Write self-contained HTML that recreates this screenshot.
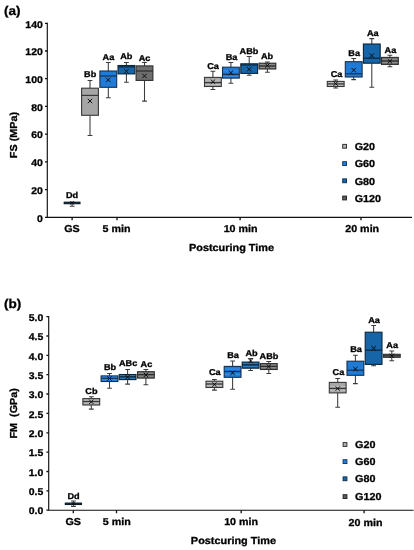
<!DOCTYPE html>
<html lang="en"><head><meta charset="utf-8"><title>Box plots</title>
<style>html,body{margin:0;padding:0;background:#fff}svg{display:block}text{font-family:'Liberation Sans', Arial, Helvetica, sans-serif;font-weight:700;text-rendering:geometricPrecision;fill:#000;stroke:#000;stroke-width:0.3px}</style></head><body>
<svg width="414" height="550" viewBox="0 0 414 550">
<rect width="414" height="550" fill="#fff"/>
<!-- chart a -->
<text transform="translate(4.0 15.3) scale(1.07 1)" font-size="12.62" text-anchor="start" >(a)</text>
<path d="M47.3 22.8V217.3H412" stroke="#111" stroke-width="1.15" fill="none"/>
<text transform="translate(42.8 221.5) scale(1.07 1)" font-size="9.77" text-anchor="end" >0</text>
<text transform="translate(42.8 193.8) scale(1.07 1)" font-size="9.77" text-anchor="end" >20</text>
<text transform="translate(42.8 166.1) scale(1.07 1)" font-size="9.77" text-anchor="end" >40</text>
<text transform="translate(42.8 138.4) scale(1.07 1)" font-size="9.77" text-anchor="end" >60</text>
<text transform="translate(42.8 110.6) scale(1.07 1)" font-size="9.77" text-anchor="end" >80</text>
<text transform="translate(42.8 82.9) scale(1.07 1)" font-size="9.77" text-anchor="end" >100</text>
<text transform="translate(42.8 55.2) scale(1.07 1)" font-size="9.77" text-anchor="end" >120</text>
<text transform="translate(42.8 27.5) scale(1.07 1)" font-size="9.77" text-anchor="end" >140</text>
<path d="M45.0 217.3H47.3M45.0 189.6H47.3M45.0 161.9H47.3M45.0 134.2H47.3M45.0 106.4H47.3M45.0 78.7H47.3M45.0 51.0H47.3M45.0 23.3H47.3M72.1 217.3V220.3M117.0 217.3V220.3M240.1 217.3V220.3M361.0 217.3V220.3" stroke="#111" stroke-width="1.3" fill="none"/>
<text transform="translate(72.0 232.3) scale(1.07 1)" font-size="10.00" text-anchor="middle" >GS</text>
<text transform="translate(116.6 232.3) scale(1.07 1)" font-size="10.00" text-anchor="middle" >5 min</text>
<text transform="translate(240.6 232.3) scale(1.07 1)" font-size="10.00" text-anchor="middle" >10 min</text>
<text transform="translate(362.2 232.3) scale(1.07 1)" font-size="10.00" text-anchor="middle" >20 min</text>
<text transform="translate(231.5 250.8) scale(1.07 1)" font-size="10.19" text-anchor="middle" >Postcuring Time</text>
<text transform="translate(17.1 135) rotate(-90) scale(1.07 1)" font-size="10.14" text-anchor="middle">FS (MPa)</text>
<path d="M72.1 202.2V202.2M72.1 203.7V206.3M69.7 202.2H74.5M69.7 206.3H74.5" stroke="#3c3c3c" stroke-width="1.05" fill="none"/>
<rect x="64.2" y="202.2" width="15.8" height="1.5" fill="#0c2a3d" stroke="#0a1c28" stroke-width="1.1"/>
<path d="M70.5 201.3L73.7 204.5M70.5 204.5L73.7 201.3" stroke="#0a0a0a" stroke-width="0.95" fill="none"/>
<text transform="translate(72.1 198.3) scale(1.07 1)" font-size="8.55" text-anchor="middle" >Dd</text>
<path d="M90.0 80.4V88.2M90.0 115.3V135.4M87.6 80.4H92.4M87.6 135.4H92.4" stroke="#3c3c3c" stroke-width="1.05" fill="none"/>
<rect x="81.6" y="88.2" width="16.8" height="27.1" fill="#a6a6a6" stroke="#383838" stroke-width="1.1"/>
<path d="M81.6 95.4H98.4" stroke="#383838" stroke-width="1.2"/>
<path d="M87.8 98.8L92.2 103.2M87.8 103.2L92.2 98.8" stroke="#0a0a0a" stroke-width="0.95" fill="none"/>
<text transform="translate(90.2 76.8) scale(1.07 1)" font-size="8.55" text-anchor="middle" >Bb</text>
<path d="M108.3 62.4V71.0M108.3 87.3V97.8M105.9 62.4H110.7M105.9 97.8H110.7" stroke="#3c3c3c" stroke-width="1.05" fill="none"/>
<rect x="99.9" y="71.0" width="16.8" height="16.3" fill="#1f7bd6" stroke="#15304d" stroke-width="1.1"/>
<path d="M99.9 76.0H116.7" stroke="#15304d" stroke-width="1.2"/>
<path d="M106.1 77.7L110.5 82.1M106.1 82.1L110.5 77.7" stroke="#0a0a0a" stroke-width="0.95" fill="none"/>
<text transform="translate(108.4 59.5) scale(1.07 1)" font-size="8.55" text-anchor="middle" >Aa</text>
<path d="M126.4 62.5V65.5M126.4 73.9V82.2M124.0 62.5H128.8M124.0 82.2H128.8" stroke="#3c3c3c" stroke-width="1.05" fill="none"/>
<rect x="118.0" y="65.5" width="16.8" height="8.4" fill="#1565a8" stroke="#0c2538" stroke-width="1.1"/>
<path d="M118.0 66.9H134.8" stroke="#0c2538" stroke-width="1.2"/>
<path d="M124.2 69.1L128.6 73.5M124.2 73.5L128.6 69.1" stroke="#0a0a0a" stroke-width="0.95" fill="none"/>
<text transform="translate(126.3 59.2) scale(1.07 1)" font-size="8.55" text-anchor="middle" >Ab</text>
<path d="M144.5 62.5V65.9M144.5 80.4V101.1M142.1 62.5H146.9M142.1 101.1H146.9" stroke="#3c3c3c" stroke-width="1.05" fill="none"/>
<rect x="136.1" y="65.9" width="16.8" height="14.5" fill="#6e6e6e" stroke="#2e2e2e" stroke-width="1.1"/>
<path d="M136.1 71.0H152.9" stroke="#2e2e2e" stroke-width="1.2"/>
<path d="M142.3 73.7L146.7 78.1M142.3 78.1L146.7 73.7" stroke="#0a0a0a" stroke-width="0.95" fill="none"/>
<text transform="translate(144.5 60.7) scale(1.07 1)" font-size="8.55" text-anchor="middle" >Ac</text>
<path d="M212.9 71.3V77.4M212.9 86.5V89.5M210.5 71.3H215.3M210.5 89.5H215.3" stroke="#3c3c3c" stroke-width="1.05" fill="none"/>
<rect x="204.5" y="77.4" width="16.8" height="9.1" fill="#a6a6a6" stroke="#383838" stroke-width="1.1"/>
<path d="M205.3 80.1H220.5" stroke="#c8c8c8" stroke-width="0.8"/>
<path d="M205.3 84.5H220.5" stroke="#c8c8c8" stroke-width="0.8"/>
<path d="M204.5 82.6H221.3" stroke="#383838" stroke-width="1.2"/>
<path d="M210.7 79.5L215.1 83.9M210.7 83.9L215.1 79.5" stroke="#0a0a0a" stroke-width="0.95" fill="none"/>
<text transform="translate(213.0 69.1) scale(1.07 1)" font-size="8.55" text-anchor="middle" >Ca</text>
<path d="M230.9 62.5V67.2M230.9 78.1V83.2M228.5 62.5H233.3M228.5 83.2H233.3" stroke="#3c3c3c" stroke-width="1.05" fill="none"/>
<rect x="222.5" y="67.2" width="16.8" height="10.9" fill="#1f7bd6" stroke="#15304d" stroke-width="1.1"/>
<path d="M223.3 70.9H238.5" stroke="#4496e8" stroke-width="0.8"/>
<path d="M223.3 76.2H238.5" stroke="#4496e8" stroke-width="0.8"/>
<path d="M222.5 74.4H239.3" stroke="#15304d" stroke-width="1.2"/>
<path d="M228.7 70.5L233.1 74.9M228.7 74.9L233.1 70.5" stroke="#0a0a0a" stroke-width="0.95" fill="none"/>
<text transform="translate(231.6 59.6) scale(1.07 1)" font-size="8.55" text-anchor="middle" >Ba</text>
<path d="M249.2 56.5V63.8M249.2 73.4V75.3M246.8 56.5H251.6M246.8 75.3H251.6" stroke="#3c3c3c" stroke-width="1.05" fill="none"/>
<rect x="240.8" y="63.8" width="16.8" height="9.6" fill="#1565a8" stroke="#0c2538" stroke-width="1.1"/>
<path d="M240.8 65.0H257.6" stroke="#0c2538" stroke-width="1.2"/>
<path d="M247.0 67.1L251.4 71.5M247.0 71.5L251.4 67.1" stroke="#0a0a0a" stroke-width="0.95" fill="none"/>
<text transform="translate(249.0 54.0) scale(1.07 1)" font-size="8.55" text-anchor="middle" >ABb</text>
<path d="M267.4 62.0V63.2M267.4 69.0V72.2M265.0 62.0H269.8M265.0 72.2H269.8" stroke="#3c3c3c" stroke-width="1.05" fill="none"/>
<rect x="259.0" y="63.2" width="16.8" height="5.8" fill="#6e6e6e" stroke="#2e2e2e" stroke-width="1.1"/>
<path d="M259.8 64.7H275.0" stroke="#9c9c9c" stroke-width="0.8"/>
<path d="M259.8 67.4H275.0" stroke="#9c9c9c" stroke-width="0.8"/>
<path d="M259.0 66.0H275.8" stroke="#2e2e2e" stroke-width="1.2"/>
<path d="M265.2 63.4L269.6 67.8M265.2 67.8L269.6 63.4" stroke="#0a0a0a" stroke-width="0.95" fill="none"/>
<text transform="translate(267.0 58.8) scale(1.07 1)" font-size="8.55" text-anchor="middle" >Ab</text>
<path d="M335.7 80.0V81.4M335.7 86.5V88.0M333.3 80.0H338.1M333.3 88.0H338.1" stroke="#3c3c3c" stroke-width="1.05" fill="none"/>
<rect x="327.3" y="81.4" width="16.8" height="5.1" fill="#a6a6a6" stroke="#383838" stroke-width="1.1"/>
<path d="M328.1 82.8H343.3" stroke="#c8c8c8" stroke-width="0.8"/>
<path d="M328.1 85.1H343.3" stroke="#c8c8c8" stroke-width="0.8"/>
<path d="M327.3 83.9H344.1" stroke="#383838" stroke-width="1.2"/>
<path d="M333.5 81.4L337.9 85.8M333.5 85.8L337.9 81.4" stroke="#0a0a0a" stroke-width="0.95" fill="none"/>
<text transform="translate(336.5 77.0) scale(1.07 1)" font-size="8.55" text-anchor="middle" >Ca</text>
<path d="M353.7 58.5V61.7M353.7 77.0V79.6M351.3 58.5H356.1M351.3 79.6H356.1" stroke="#3c3c3c" stroke-width="1.05" fill="none"/>
<rect x="345.3" y="61.7" width="16.8" height="15.3" fill="#1f7bd6" stroke="#15304d" stroke-width="1.1"/>
<path d="M345.3 73.8H362.1" stroke="#15304d" stroke-width="1.2"/>
<path d="M351.5 68.0L355.9 72.4M351.5 72.4L355.9 68.0" stroke="#0a0a0a" stroke-width="0.95" fill="none"/>
<text transform="translate(354.2 56.1) scale(1.07 1)" font-size="8.55" text-anchor="middle" >Ba</text>
<path d="M371.8 38.6V44.0M371.8 63.2V87.3M369.4 38.6H374.2M369.4 87.3H374.2" stroke="#3c3c3c" stroke-width="1.05" fill="none"/>
<rect x="363.4" y="44.0" width="16.8" height="19.2" fill="#1565a8" stroke="#0c2538" stroke-width="1.1"/>
<path d="M363.4 58.2H380.2" stroke="#0c2538" stroke-width="1.2"/>
<path d="M369.6 53.4L374.0 57.8M369.6 57.8L374.0 53.4" stroke="#0a0a0a" stroke-width="0.95" fill="none"/>
<text transform="translate(372.8 36.3) scale(1.07 1)" font-size="8.55" text-anchor="middle" >Aa</text>
<path d="M389.9 55.3V57.4M389.9 64.4V66.8M387.5 55.3H392.3M387.5 66.8H392.3" stroke="#3c3c3c" stroke-width="1.05" fill="none"/>
<rect x="381.5" y="57.4" width="16.8" height="7.0" fill="#6e6e6e" stroke="#2e2e2e" stroke-width="1.1"/>
<path d="M382.3 59.3H397.5" stroke="#9c9c9c" stroke-width="0.8"/>
<path d="M382.3 62.6H397.5" stroke="#9c9c9c" stroke-width="0.8"/>
<path d="M381.5 61.0H398.3" stroke="#2e2e2e" stroke-width="1.2"/>
<path d="M387.7 59.0L392.1 63.4M387.7 63.4L392.1 59.0" stroke="#0a0a0a" stroke-width="0.95" fill="none"/>
<text transform="translate(390.4 52.7) scale(1.07 1)" font-size="8.55" text-anchor="middle" >Aa</text>
<rect x="342.7" y="144.4" width="3.8" height="3.8" fill="#b6b6b6" stroke="#333" stroke-width="1"/>
<text transform="translate(354.7 150.0) scale(1.07 1)" font-size="10.09" text-anchor="start" >G20</text>
<rect x="342.7" y="161.7" width="3.8" height="3.8" fill="#1f80e6" stroke="#183a63" stroke-width="1"/>
<text transform="translate(354.7 167.2) scale(1.07 1)" font-size="10.09" text-anchor="start" >G60</text>
<rect x="342.7" y="178.9" width="3.8" height="3.8" fill="#1568ad" stroke="#11324f" stroke-width="1"/>
<text transform="translate(354.7 184.5) scale(1.07 1)" font-size="10.09" text-anchor="start" >G80</text>
<rect x="342.7" y="196.1" width="3.8" height="3.8" fill="#5c5c5c" stroke="#262626" stroke-width="1"/>
<text transform="translate(354.7 201.7) scale(1.07 1)" font-size="10.09" text-anchor="start" >G120</text>
<!-- chart b -->
<text transform="translate(3.9 308.3) scale(1.07 1)" font-size="12.62" text-anchor="start" >(b)</text>
<path d="M48.7 316.1V510.2H413.5" stroke="#111" stroke-width="1.15" fill="none"/>
<text transform="translate(43.2 514.4) scale(1.07 1)" font-size="9.77" text-anchor="end" >0.0</text>
<text transform="translate(43.2 495.0) scale(1.07 1)" font-size="9.77" text-anchor="end" >0.5</text>
<text transform="translate(43.2 475.7) scale(1.07 1)" font-size="9.77" text-anchor="end" >1.0</text>
<text transform="translate(43.2 456.3) scale(1.07 1)" font-size="9.77" text-anchor="end" >1.5</text>
<text transform="translate(43.2 437.0) scale(1.07 1)" font-size="9.77" text-anchor="end" >2.0</text>
<text transform="translate(43.2 417.6) scale(1.07 1)" font-size="9.77" text-anchor="end" >2.5</text>
<text transform="translate(43.2 398.2) scale(1.07 1)" font-size="9.77" text-anchor="end" >3.0</text>
<text transform="translate(43.2 378.9) scale(1.07 1)" font-size="9.77" text-anchor="end" >3.5</text>
<text transform="translate(43.2 359.5) scale(1.07 1)" font-size="9.77" text-anchor="end" >4.0</text>
<text transform="translate(43.2 340.2) scale(1.07 1)" font-size="9.77" text-anchor="end" >4.5</text>
<text transform="translate(43.2 320.8) scale(1.07 1)" font-size="9.77" text-anchor="end" >5.0</text>
<path d="M46.4 510.2H48.7M46.4 490.8H48.7M46.4 471.5H48.7M46.4 452.1H48.7M46.4 432.8H48.7M46.4 413.4H48.7M46.4 394.0H48.7M46.4 374.7H48.7M46.4 355.3H48.7M46.4 336.0H48.7M46.4 316.6H48.7M73.3 510.2V513.2M116.5 510.2V513.2M241.2 510.2V513.2M364.1 510.2V513.2" stroke="#111" stroke-width="1.3" fill="none"/>
<text transform="translate(73.1 525.0) scale(1.07 1)" font-size="10.00" text-anchor="middle" >GS</text>
<text transform="translate(116.8 525.1) scale(1.07 1)" font-size="10.00" text-anchor="middle" >5 min</text>
<text transform="translate(241.1 525.2) scale(1.07 1)" font-size="10.00" text-anchor="middle" >10 min</text>
<text transform="translate(365.5 525.5) scale(1.07 1)" font-size="10.00" text-anchor="middle" >20 min</text>
<text transform="translate(233.4 543.9) scale(1.07 1)" font-size="10.19" text-anchor="middle" >Postcuring Time</text>
<text transform="translate(17.1 413.3) rotate(-90) scale(1.07 1)" font-size="10.14" text-anchor="middle" xml:space="preserve">FM  (GPa)</text>
<path d="M73.4 501.0V503.1M73.4 504.5V506.4M71.0 501.0H75.8M71.0 506.4H75.8" stroke="#3c3c3c" stroke-width="1.05" fill="none"/>
<rect x="65.3" y="503.1" width="16.2" height="1.4" fill="#0c2a3d" stroke="#0a1c28" stroke-width="1.1"/>
<path d="M71.8 502.2L75.0 505.4M71.8 505.4L75.0 502.2" stroke="#0a0a0a" stroke-width="0.95" fill="none"/>
<text transform="translate(73.6 499.0) scale(1.07 1)" font-size="8.55" text-anchor="middle" >Dd</text>
<path d="M91.3 396.7V398.6M91.3 405.0V409.1M88.9 396.7H93.7M88.9 409.1H93.7" stroke="#3c3c3c" stroke-width="1.05" fill="none"/>
<rect x="82.9" y="398.6" width="16.8" height="6.4" fill="#a6a6a6" stroke="#383838" stroke-width="1.1"/>
<path d="M83.7 400.2H98.9" stroke="#c8c8c8" stroke-width="0.8"/>
<path d="M83.7 403.1H98.9" stroke="#c8c8c8" stroke-width="0.8"/>
<path d="M82.9 401.5H99.7" stroke="#383838" stroke-width="1.2"/>
<path d="M89.1 399.6L93.5 404.0M89.1 404.0L93.5 399.6" stroke="#0a0a0a" stroke-width="0.95" fill="none"/>
<text transform="translate(91.4 393.8) scale(1.07 1)" font-size="8.55" text-anchor="middle" >Cb</text>
<path d="M109.5 373.5V375.9M109.5 381.5V388.3M107.1 373.5H111.9M107.1 388.3H111.9" stroke="#3c3c3c" stroke-width="1.05" fill="none"/>
<rect x="101.1" y="375.9" width="16.8" height="5.6" fill="#1f7bd6" stroke="#15304d" stroke-width="1.1"/>
<path d="M101.9 377.2H117.1" stroke="#4496e8" stroke-width="0.8"/>
<path d="M101.9 379.8H117.1" stroke="#4496e8" stroke-width="0.8"/>
<path d="M101.1 378.3H117.9" stroke="#15304d" stroke-width="1.2"/>
<path d="M107.3 376.3L111.7 380.7M107.3 380.7L111.7 376.3" stroke="#0a0a0a" stroke-width="0.95" fill="none"/>
<text transform="translate(110.1 369.8) scale(1.07 1)" font-size="8.55" text-anchor="middle" >Bb</text>
<path d="M127.6 369.5V374.5M127.6 379.6V384.1M125.2 369.5H130.0M125.2 384.1H130.0" stroke="#3c3c3c" stroke-width="1.05" fill="none"/>
<rect x="119.2" y="374.5" width="16.8" height="5.1" fill="#1565a8" stroke="#0c2538" stroke-width="1.1"/>
<path d="M120.0 375.8H135.2" stroke="#3787c9" stroke-width="0.8"/>
<path d="M120.0 378.1H135.2" stroke="#3787c9" stroke-width="0.8"/>
<path d="M119.2 376.8H136.0" stroke="#0c2538" stroke-width="1.2"/>
<path d="M125.4 374.9L129.8 379.3M125.4 379.3L129.8 374.9" stroke="#0a0a0a" stroke-width="0.95" fill="none"/>
<text transform="translate(128.1 366.2) scale(1.07 1)" font-size="8.55" text-anchor="middle" >ABc</text>
<path d="M145.9 369.5V371.7M145.9 378.1V384.8M143.5 369.5H148.3M143.5 384.8H148.3" stroke="#3c3c3c" stroke-width="1.05" fill="none"/>
<rect x="137.5" y="371.7" width="16.8" height="6.4" fill="#6e6e6e" stroke="#2e2e2e" stroke-width="1.1"/>
<path d="M138.3 373.2H153.5" stroke="#9c9c9c" stroke-width="0.8"/>
<path d="M138.3 376.2H153.5" stroke="#9c9c9c" stroke-width="0.8"/>
<path d="M137.5 374.6H154.3" stroke="#2e2e2e" stroke-width="1.2"/>
<path d="M143.7 372.7L148.1 377.1M143.7 377.1L148.1 372.7" stroke="#0a0a0a" stroke-width="0.95" fill="none"/>
<text transform="translate(146.4 366.5) scale(1.07 1)" font-size="8.55" text-anchor="middle" >Ac</text>
<path d="M214.4 379.5V381.2M214.4 387.5V390.1M212.0 379.5H216.8M212.0 390.1H216.8" stroke="#3c3c3c" stroke-width="1.05" fill="none"/>
<rect x="206.0" y="381.2" width="16.8" height="6.3" fill="#a6a6a6" stroke="#383838" stroke-width="1.1"/>
<path d="M206.8 382.7H222.0" stroke="#c8c8c8" stroke-width="0.8"/>
<path d="M206.8 385.6H222.0" stroke="#c8c8c8" stroke-width="0.8"/>
<path d="M206.0 384.0H222.8" stroke="#383838" stroke-width="1.2"/>
<path d="M212.2 382.3L216.6 386.7M212.2 386.7L216.6 382.3" stroke="#0a0a0a" stroke-width="0.95" fill="none"/>
<text transform="translate(214.8 375.4) scale(1.07 1)" font-size="8.55" text-anchor="middle" >Ca</text>
<path d="M232.6 361.0V366.4M232.6 377.3V389.2M230.2 361.0H235.0M230.2 389.2H235.0" stroke="#3c3c3c" stroke-width="1.05" fill="none"/>
<rect x="224.2" y="366.4" width="16.8" height="10.9" fill="#1f7bd6" stroke="#15304d" stroke-width="1.1"/>
<path d="M225.0 369.1H240.2" stroke="#4496e8" stroke-width="0.8"/>
<path d="M225.0 374.3H240.2" stroke="#4496e8" stroke-width="0.8"/>
<path d="M224.2 371.5H241.0" stroke="#15304d" stroke-width="1.2"/>
<path d="M230.4 370.7L234.8 375.1M230.4 375.1L234.8 370.7" stroke="#0a0a0a" stroke-width="0.95" fill="none"/>
<text transform="translate(233.0 358.1) scale(1.07 1)" font-size="8.55" text-anchor="middle" >Ba</text>
<path d="M250.6 358.5V362.1M250.6 368.2V370.4M248.2 358.5H253.0M248.2 370.4H253.0" stroke="#3c3c3c" stroke-width="1.05" fill="none"/>
<rect x="242.2" y="362.1" width="16.8" height="6.1" fill="#1565a8" stroke="#0c2538" stroke-width="1.1"/>
<path d="M243.0 363.6H258.2" stroke="#3787c9" stroke-width="0.8"/>
<path d="M243.0 366.4H258.2" stroke="#3787c9" stroke-width="0.8"/>
<path d="M242.2 364.8H259.0" stroke="#0c2538" stroke-width="1.2"/>
<path d="M248.4 358.7L252.8 363.1M248.4 363.1L252.8 358.7" stroke="#0a0a0a" stroke-width="0.95" fill="none"/>
<text transform="translate(251.6 355.6) scale(1.07 1)" font-size="8.55" text-anchor="middle" >Ab</text>
<path d="M268.8 361.5V363.6M268.8 369.5V373.5M266.4 361.5H271.2M266.4 373.5H271.2" stroke="#3c3c3c" stroke-width="1.05" fill="none"/>
<rect x="260.4" y="363.6" width="16.8" height="5.9" fill="#6e6e6e" stroke="#2e2e2e" stroke-width="1.1"/>
<path d="M261.2 365.1H276.4" stroke="#9c9c9c" stroke-width="0.8"/>
<path d="M261.2 367.8H276.4" stroke="#9c9c9c" stroke-width="0.8"/>
<path d="M260.4 366.4H277.2" stroke="#2e2e2e" stroke-width="1.2"/>
<path d="M266.6 364.3L271.0 368.7M266.6 368.7L271.0 364.3" stroke="#0a0a0a" stroke-width="0.95" fill="none"/>
<text transform="translate(269.0 358.5) scale(1.07 1)" font-size="8.55" text-anchor="middle" >ABb</text>
<path d="M337.7 378.4V382.4M337.7 392.9V407.2M335.3 378.4H340.1M335.3 407.2H340.1" stroke="#3c3c3c" stroke-width="1.05" fill="none"/>
<rect x="329.3" y="382.4" width="16.8" height="10.5" fill="#a6a6a6" stroke="#383838" stroke-width="1.1"/>
<path d="M330.1 386.6H345.3" stroke="#c8c8c8" stroke-width="0.8"/>
<path d="M330.1 390.4H345.3" stroke="#c8c8c8" stroke-width="0.8"/>
<path d="M329.3 388.4H346.1" stroke="#383838" stroke-width="1.2"/>
<path d="M335.5 386.4L339.9 390.8M335.5 390.8L339.9 386.4" stroke="#0a0a0a" stroke-width="0.95" fill="none"/>
<text transform="translate(338.4 375.3) scale(1.07 1)" font-size="8.55" text-anchor="middle" >Ca</text>
<path d="M355.4 355.3V361.2M355.4 375.3V383.6M353.0 355.3H357.8M353.0 383.6H357.8" stroke="#3c3c3c" stroke-width="1.05" fill="none"/>
<rect x="347.0" y="361.2" width="16.8" height="14.1" fill="#1f7bd6" stroke="#15304d" stroke-width="1.1"/>
<path d="M347.0 370.2H363.8" stroke="#15304d" stroke-width="1.2"/>
<path d="M353.2 366.8L357.6 371.2M353.2 371.2L357.6 366.8" stroke="#0a0a0a" stroke-width="0.95" fill="none"/>
<text transform="translate(356.0 352.3) scale(1.07 1)" font-size="8.55" text-anchor="middle" >Ba</text>
<path d="M373.6 325.5V332.2M373.6 364.4V365.8M371.2 325.5H376.0M371.2 365.8H376.0" stroke="#3c3c3c" stroke-width="1.05" fill="none"/>
<rect x="365.2" y="332.2" width="16.8" height="32.2" fill="#1565a8" stroke="#0c2538" stroke-width="1.1"/>
<path d="M365.2 350.2H382.0" stroke="#0c2538" stroke-width="1.2"/>
<path d="M371.4 346.0L375.8 350.4M371.4 350.4L375.8 346.0" stroke="#0a0a0a" stroke-width="0.95" fill="none"/>
<text transform="translate(374.0 322.5) scale(1.07 1)" font-size="8.55" text-anchor="middle" >Aa</text>
<path d="M391.8 350.9V354.3M391.8 357.3V360.8M389.4 350.9H394.2M389.4 360.8H394.2" stroke="#3c3c3c" stroke-width="1.05" fill="none"/>
<rect x="383.4" y="354.3" width="16.8" height="3.0" fill="#6e6e6e" stroke="#2e2e2e" stroke-width="1.1"/>
<path d="M383.4 355.8H400.2" stroke="#2e2e2e" stroke-width="1.2"/>
<path d="M389.6 353.6L394.0 358.0M389.6 358.0L394.0 353.6" stroke="#0a0a0a" stroke-width="0.95" fill="none"/>
<text transform="translate(392.2 348.0) scale(1.07 1)" font-size="8.55" text-anchor="middle" >Aa</text>
<rect x="343.1" y="442.6" width="3.8" height="3.8" fill="#b6b6b6" stroke="#333" stroke-width="1"/>
<text transform="translate(355.1 448.1) scale(1.07 1)" font-size="10.09" text-anchor="start" >G20</text>
<rect x="343.1" y="459.7" width="3.8" height="3.8" fill="#1f80e6" stroke="#183a63" stroke-width="1"/>
<text transform="translate(355.1 465.2) scale(1.07 1)" font-size="10.09" text-anchor="start" >G60</text>
<rect x="343.1" y="476.9" width="3.8" height="3.8" fill="#1568ad" stroke="#11324f" stroke-width="1"/>
<text transform="translate(355.1 482.4) scale(1.07 1)" font-size="10.09" text-anchor="start" >G80</text>
<rect x="343.1" y="494.7" width="3.8" height="3.8" fill="#5c5c5c" stroke="#262626" stroke-width="1"/>
<text transform="translate(355.1 500.2) scale(1.07 1)" font-size="10.09" text-anchor="start" >G120</text>
</svg></body></html>
